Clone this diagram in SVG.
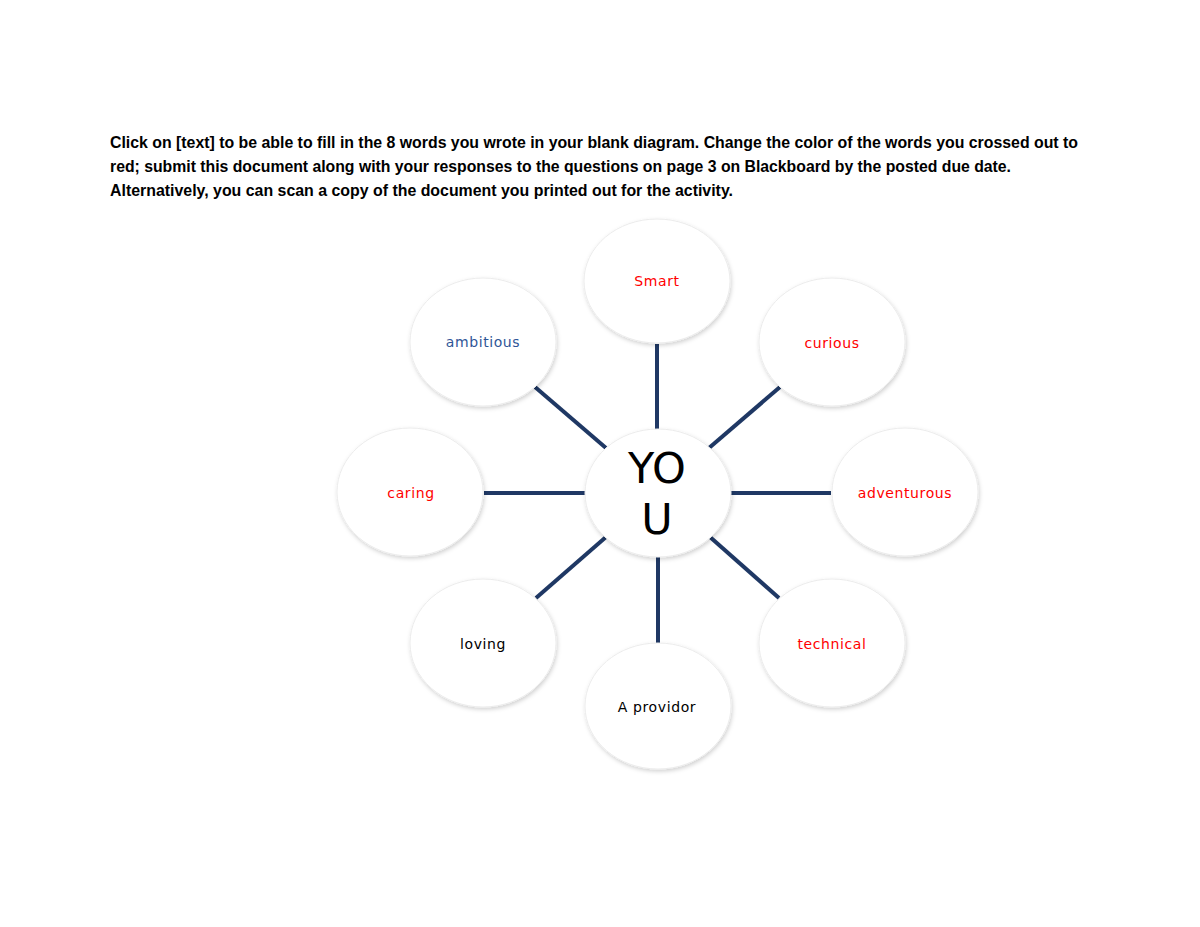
<svg xmlns="http://www.w3.org/2000/svg" width="1200" height="927" viewBox="0 0 1200 927">
<defs>
<filter id="sh" x="-20%" y="-20%" width="140%" height="140%">
<feDropShadow dx="1" dy="2" stdDeviation="2" flood-color="#000" flood-opacity="0.18"/>
</filter>
<style>
.node ellipse{fill:#fff;stroke:#ececec;stroke-width:1;filter:url(#sh)}
.lbl{font-family:"DejaVu Sans",Verdana,sans-serif;font-size:14px;letter-spacing:0.6px;text-anchor:middle}
.red{fill:#ff0000}
.blue{fill:#2f5597}
.blk{fill:#000}
.title{font-family:"Liberation Sans",Arial,sans-serif;font-size:16px;font-weight:bold;fill:#000}
#connectors line{stroke:#1f3864;stroke-width:4;stroke-linecap:butt}
</style>
</defs>
<rect width="1200" height="927" fill="#fff"/>
<g id="title">
<text class="title" x="110" y="148" textLength="968" lengthAdjust="spacingAndGlyphs">Click on [text] to be able to fill in the 8 words you wrote in your blank diagram. Change the color of the words you crossed out to</text>
<text class="title" x="110" y="172" textLength="901" lengthAdjust="spacingAndGlyphs">red; submit this document along with your responses to the questions on page 3 on Blackboard by the posted due date.</text>
<text class="title" x="110" y="196" textLength="623" lengthAdjust="spacingAndGlyphs">Alternatively, you can scan a copy of the document you printed out for the activity.</text>
</g>
<g id="connectors">
<line x1="657" y1="344" x2="657" y2="430"/>
<line x1="535" y1="387" x2="606" y2="448"/>
<line x1="780" y1="387" x2="709" y2="448"/>
<line x1="484" y1="493" x2="586" y2="493"/>
<line x1="730" y1="493" x2="831" y2="493"/>
<line x1="606" y1="537" x2="536" y2="598"/>
<line x1="710" y1="537" x2="779" y2="598"/>
<line x1="658" y1="557" x2="658" y2="643"/>
</g>
<g id="node-you" class="node">
<ellipse cx="658" cy="493" rx="73" ry="64"/>
<text x="657" y="483" font-family="DejaVu Sans,Verdana,sans-serif" font-size="43" text-anchor="middle" fill="#000">YO</text>
<text x="657" y="534" font-family="DejaVu Sans,Verdana,sans-serif" font-size="43" text-anchor="middle" fill="#000">U</text>
</g>
<g id="node-smart" class="node">
<ellipse cx="657" cy="281" rx="73" ry="62"/>
<text class="lbl red" x="657" y="286">Smart</text>
</g>
<g id="node-ambitious" class="node">
<ellipse cx="483" cy="342" rx="73" ry="64"/>
<text class="lbl blue" x="483" y="347">ambitious</text>
</g>
<g id="node-curious" class="node">
<ellipse cx="832" cy="342" rx="73" ry="64"/>
<text class="lbl red" x="832" y="348">curious</text>
</g>
<g id="node-caring" class="node">
<ellipse cx="410" cy="492" rx="73" ry="64"/>
<text class="lbl red" x="411" y="498">caring</text>
</g>
<g id="node-adventurous" class="node">
<ellipse cx="905" cy="492" rx="73" ry="64"/>
<text class="lbl red" x="905" y="498">adventurous</text>
</g>
<g id="node-loving" class="node">
<ellipse cx="483" cy="643" rx="73" ry="64"/>
<text class="lbl blk" x="483" y="649">loving</text>
</g>
<g id="node-technical" class="node">
<ellipse cx="832" cy="643" rx="73" ry="64"/>
<text class="lbl red" x="832" y="649">technical</text>
</g>
<g id="node-providor" class="node">
<ellipse cx="658" cy="706" rx="73" ry="63"/>
<text class="lbl blk" x="657" y="712">A providor</text>
</g>
</svg>
